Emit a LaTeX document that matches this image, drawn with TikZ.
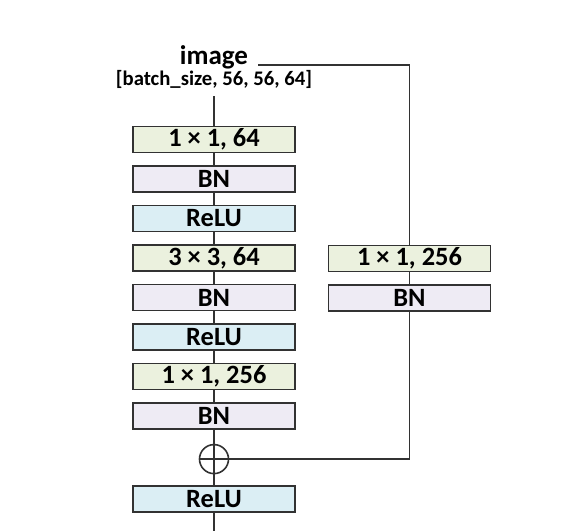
\documentclass[tikz,border=0pt]{standalone}
\usepackage{fontspec}
\setmainfont{Carlito}
\usetikzlibrary{positioning}
\definecolor{convfill}{RGB}{235,241,222}
\definecolor{bnfill}{RGB}{238,235,244}
\definecolor{relufill}{RGB}{219,238,244}
\definecolor{edge}{RGB}{50,50,50}

\begin{document}
\begin{tikzpicture}[x=1pt, y=-1pt, line width=1.6pt, draw=edge,
    node distance={11.9pt},
    layer/.style = {draw=edge, minimum width=162pt, minimum height=26pt, inner sep=0pt, font=\fontsize{26.4}{27}\selectfont\bfseries},
    conv/.style = {layer, fill=convfill},
    bn/.style = {layer, fill=bnfill},
    relu/.style = {layer, fill=relufill}]
    \useasboundingbox (0,0) rectangle (567,531);
    \node[font=\fontsize{27}{28}\selectfont\bfseries] (img) at (214,57) {image};
    \node[font=\fontsize{20.7}{22}\selectfont\bfseries] (shape) at (214,79) {[batch\_size, 56, 56, 64]};
    \node[conv] (c1) at (214,139.5) {1 × 1, 64};
    \node[bn] (b1) [below=of c1] {BN};
    \node[relu] (r1) [below=of b1] {ReLU};
    \node[conv] (c2) [below=of r1] {3 × 3, 64};
    \node[bn] (b2) [below=of c2] {BN};
    \node[relu] (r2) [below=of b2] {ReLU};
    \node[conv] (c3) [below=of r2] {1 × 1, 256};
    \node[bn] (b3) [below=of c3] {BN};
    \node[draw=edge, circle, minimum size=29pt, inner sep=0pt] (add) [below=14pt of b3] {};
    \node[relu] (r3) [below=11pt of add] {ReLU};
    \node[conv] (sc) at (409.5,258.5) {1 × 1, 256};
    \node[bn] (sb) [below=of sc] {BN};
    \coordinate (corner) at (409.5,65);
    \coordinate (out) at (214,531);
    % main path
    \draw (214,96) -- (c1);
    \draw (c1)--(b1);
    \draw (b1)--(r1);
    \draw (r1)--(c2);
    \draw (c2)--(b2);
    \draw (b2)--(r2);
    \draw (r2)--(c3);
    \draw (c3)--(b3);
    \draw (b3)--(add.north);
    \draw (add.north)--(add.south);
    \draw (add.west)--(add.east);
    \draw (add.south)--(r3);
    \draw (r3)--(out);
    % shortcut
    \draw (258,65) -- (corner) -- (sc);
    \draw (sc)--(sb);
    \draw (sb) |- (add.east);
\end{tikzpicture}
\end{document}
